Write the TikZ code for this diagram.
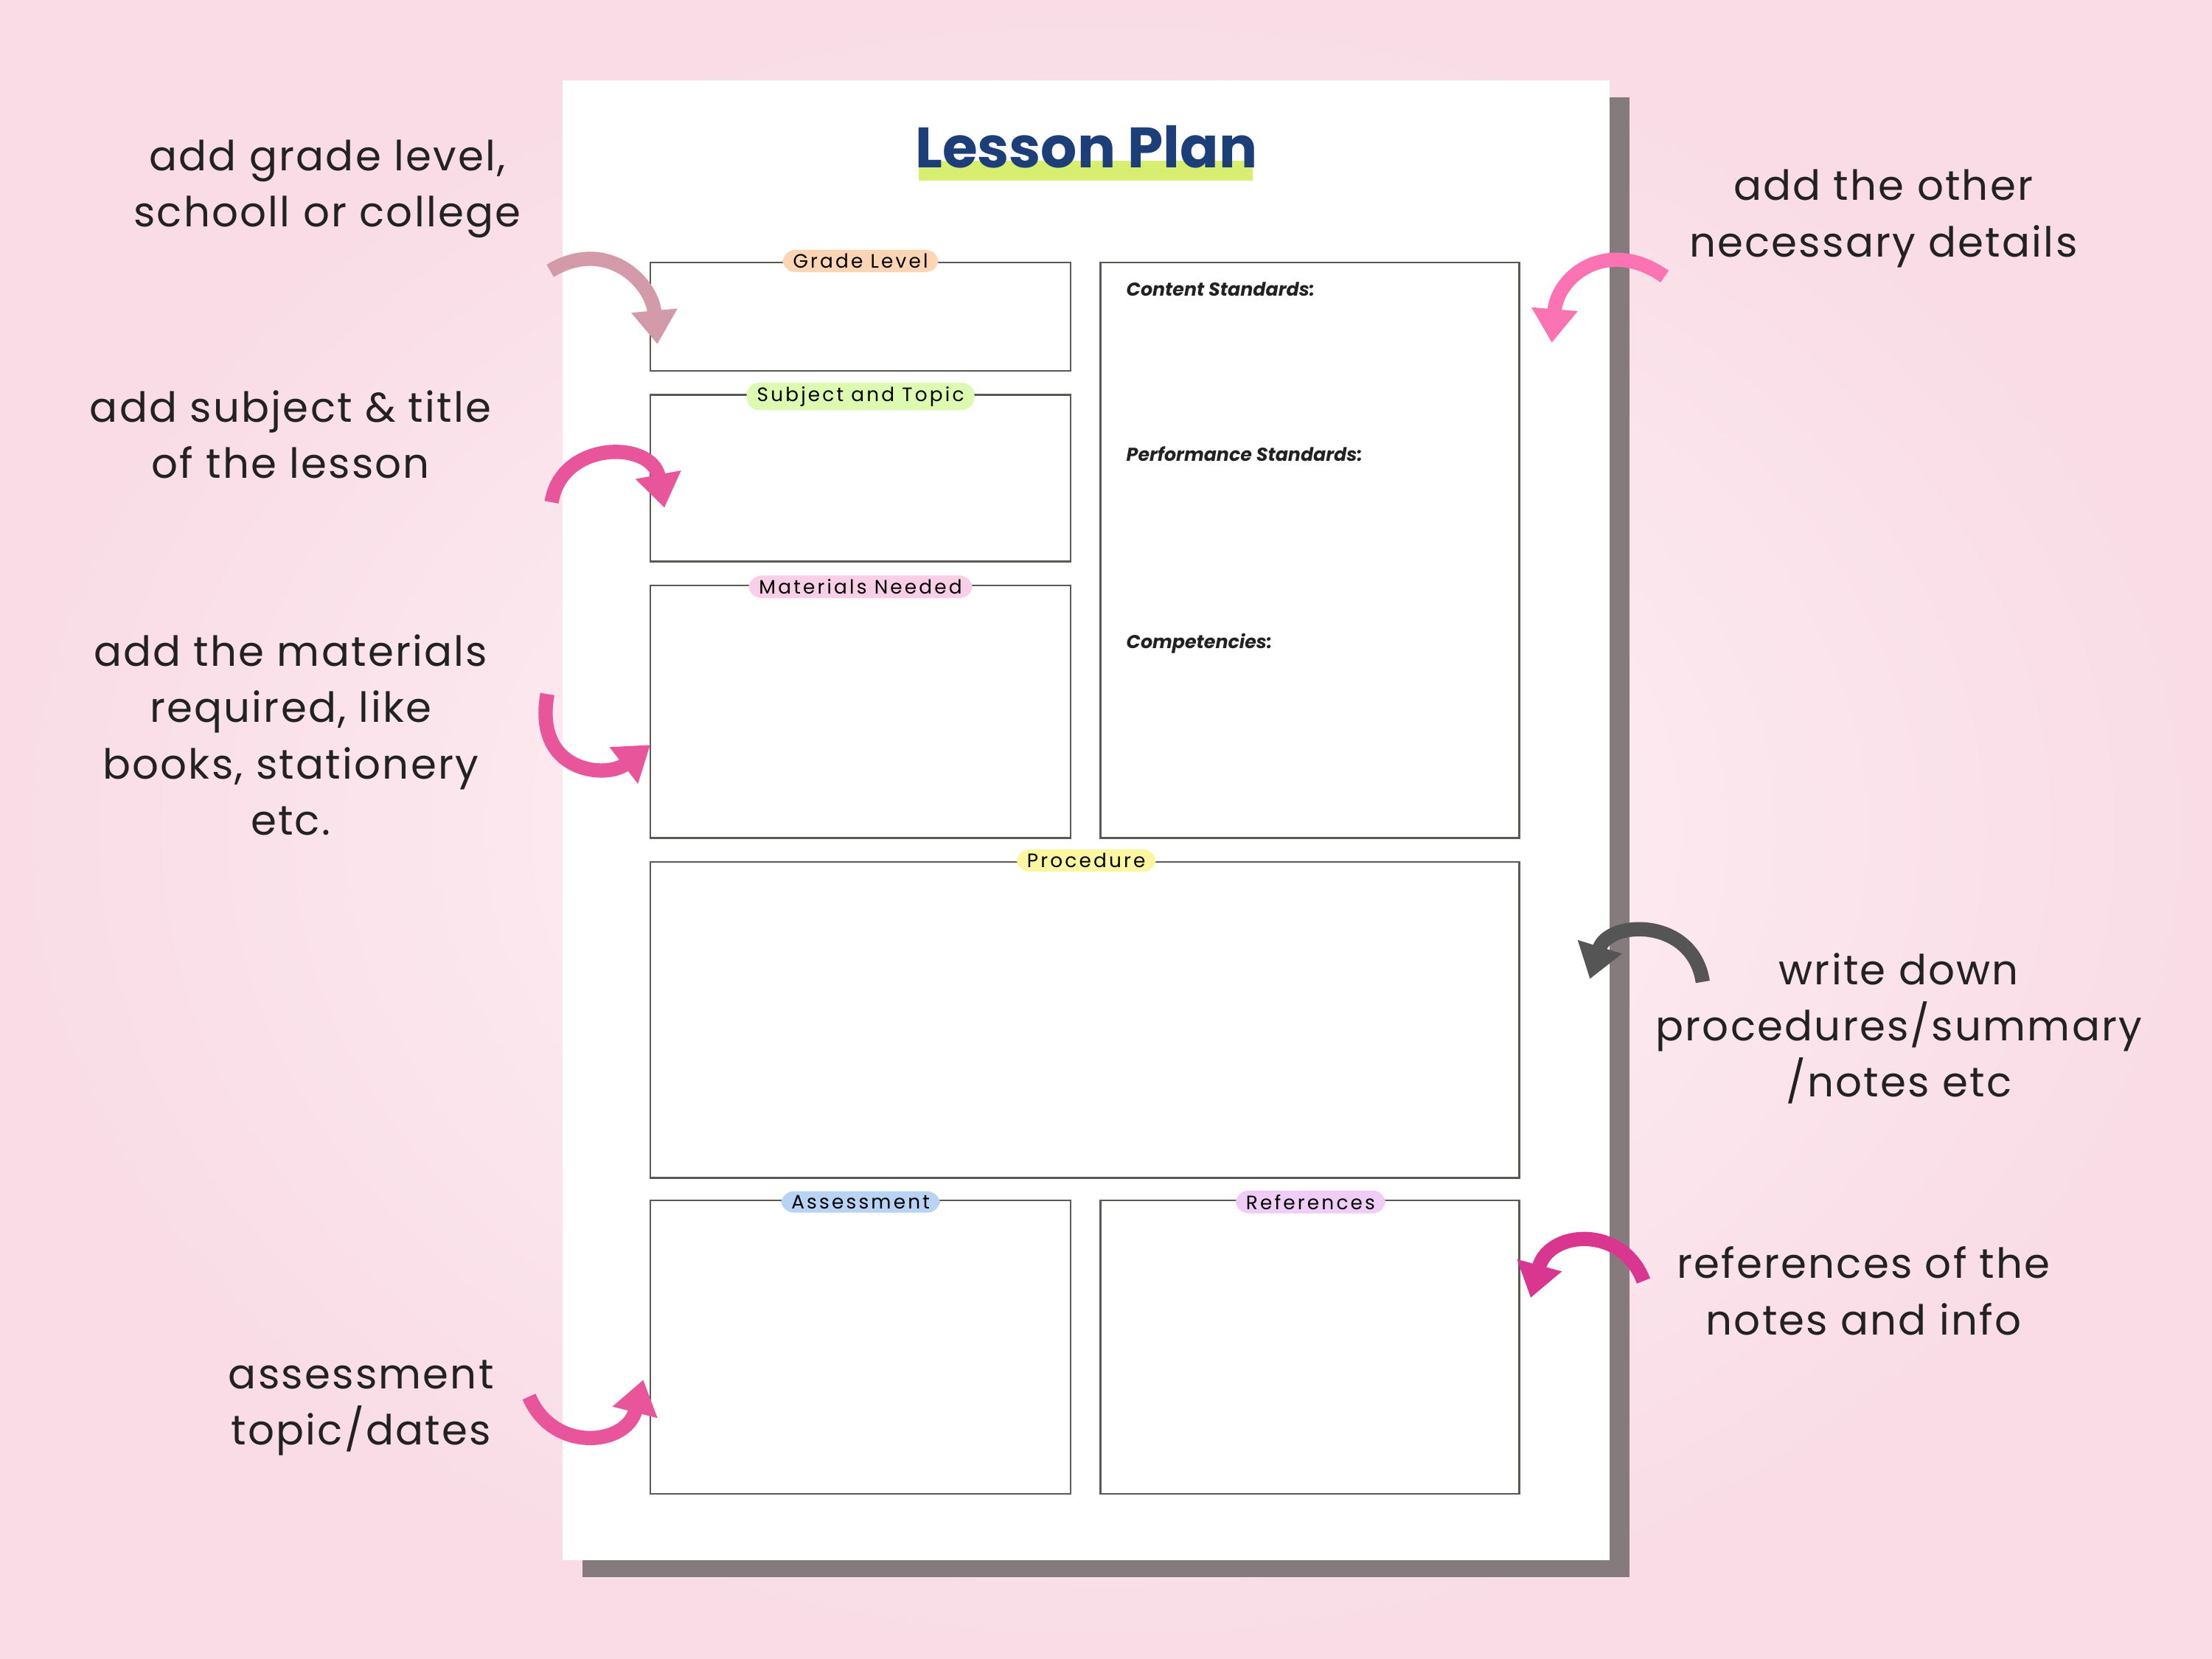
\documentclass[tikz,border=0pt]{standalone}
\usepackage{fontspec}
\setmainfont{Poppins}
\usetikzlibrary{arrows.meta}
\definecolor{navy}{HTML}{1C3F7A}
\definecolor{hl}{HTML}{D8EE70}
\definecolor{cGrade}{HTML}{FCD5B5}
\definecolor{cSubj}{HTML}{DCFBB0}
\definecolor{cMat}{HTML}{F9CFE8}
\definecolor{cProc}{HTML}{FBF7A0}
\definecolor{cAss}{HTML}{B9D3F4}
\definecolor{cRef}{HTML}{EFCDF6}
\definecolor{boxline}{HTML}{5A5A55}
\definecolor{aMauve}{HTML}{D39AAA}
\definecolor{aPink}{HTML}{E8559A}
\definecolor{aLight}{HTML}{FB73B3}
\definecolor{aGray}{HTML}{555555}
\definecolor{aDeep}{HTML}{D9378F}
\definecolor{txt}{HTML}{222222}
\definecolor{bgOut}{HTML}{F9DCE6}
\definecolor{bgIn}{HTML}{FFF4F7}
\definecolor{shadowc}{HTML}{857A7C}
\begin{document}
\begin{tikzpicture}[x=0.019133cm,y=-0.019133cm,
  panel/.style={draw=boxline,line width=0.7pt},
  tag/.style={rounded corners=5pt,inner xsep=4pt,inner ysep=1.5pt,font=\fontsize{7.5}{9}\selectfont\addfontfeature{LetterSpace=12}},
  note/.style={align=center,font=\fontsize{16}{21.7}\selectfont\addfontfeature{LetterSpace=4},text=txt},
  inner/.style={anchor=west,font=\fontsize{7.2}{9}\selectfont\bfseries\itshape,text=txt},
  curl/.style={line width=5.5pt,-{Triangle[length=13pt,width=17pt]}}]
\useasboundingbox (0,0) rectangle (1568,1176);
\fill[bgOut] (0,0) rectangle (1568,1176);
\shade[inner color=bgIn,outer color=bgOut] (0,0) rectangle (1568,1176);
% page
\fill[shadowc] (413,69) rectangle (1155,1118);
\fill[white] (399,57) rectangle (1141,1106);
\fill[hl] (651,114) rectangle (888,128);
\node[font=\fontsize{22}{26}\selectfont\bfseries,text=navy] (title) at (770,104) {Lesson Plan};
% boxes
\draw[panel] (461,186) rectangle (759,263);
\draw[panel] (461,280) rectangle (759,398);
\draw[panel] (461,415) rectangle (759,594);
\draw[panel] (780,186) rectangle (1077,594);
\draw[panel] (461,611) rectangle (1077,835);
\draw[panel] (461,851) rectangle (759,1059);
\draw[panel] (780,851) rectangle (1077,1059);
\node[tag,fill=cGrade] (tGrade) at (610,185) {Grade Level};
\node[tag,fill=cSubj] (tSubj) at (610,281) {Subject and Topic};
\node[tag,fill=cMat] (tMat) at (610,416) {Materials Needed};
\node[tag,fill=cProc] (tProc) at (770,610) {Procedure};
\node[tag,fill=cAss] (tAss) at (610,852) {Assessment};
\node[tag,fill=cRef] (tRef) at (929,852) {References};
\node[inner] (cs) at (792,205) {Content Standards:};
\node[inner] (ps) at (792,322) {Performance Standards:};
\node[inner] (cp) at (792,456) {Competencies:};
% notes
\node[note] (n1) at (232,134) {add grade level,\\schooll or college};
\node[note] (n2) at (206,308) {add subject \& title\\of the lesson};
\node[note] (n3) at (206,521) {add the materials\\required, like\\books, stationery\\etc.};
\node[note] (n4) at (256,998) {assessment\\topic/dates};
\node[note] (n5) at (1335,155) {add the other\\necessary details};
\node[note] (n6) at (1346,729) {write down\\procedures/summary\\/notes etc};
\node[note] (n7) at (1321,915) {references of the\\notes and info};
% arrows
\coordinate (a1s) at (390,192); \coordinate (a1e) at (466,244);
\draw[curl,aMauve] (a1s) .. controls (430,168) and (462,200) .. (a1e);
\coordinate (a2s) at (391,356); \coordinate (a2e) at (471,360);
\draw[curl,aPink] (a2s) .. controls (398,312) and (462,312) .. (a2e);
\coordinate (a3s) at (388,492); \coordinate (a3e) at (461,528);
\draw[curl,aPink] (a3s) .. controls (378,548) and (430,552) .. (a3e);
\coordinate (a4s) at (375,990); \coordinate (a4e) at (456,978);
\draw[curl,aPink] (a4s) .. controls (392,1030) and (444,1025) .. (a4e);
\coordinate (a5s) at (1180,196); \coordinate (a5e) at (1100,243);
\draw[curl,aLight] (a5s) .. controls (1140,168) and (1104,195) .. (a5e);
\coordinate (a6s) at (1207,696); \coordinate (a6e) at (1127,694);
\draw[curl,aGray] (a6s) .. controls (1200,650) and (1140,652) .. (a6e);
\coordinate (a7s) at (1165,908); \coordinate (a7e) at (1085,920);
\draw[curl,aDeep] (a7s) .. controls (1150,868) and (1098,872) .. (a7e);
\end{tikzpicture}
\end{document}
